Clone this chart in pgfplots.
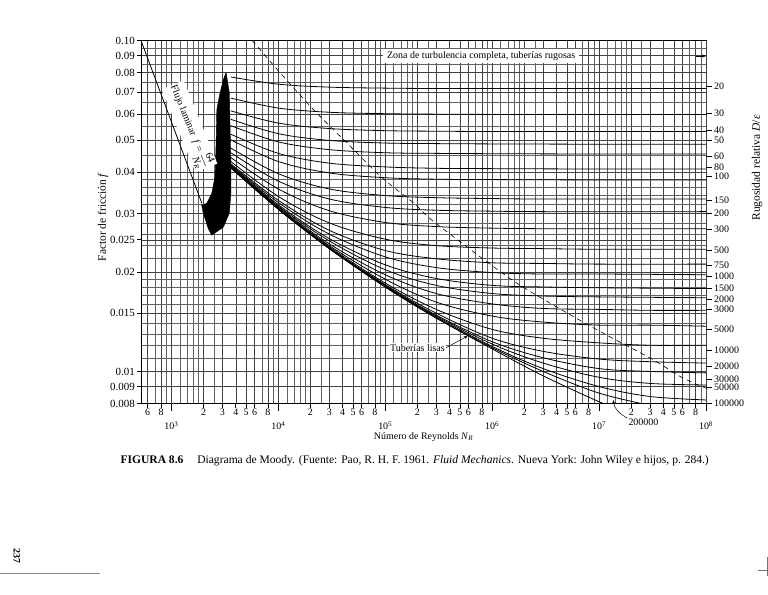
\documentclass[border=0pt]{standalone}
\usepackage{fontspec}
\setmainfont{Liberation Serif}
\usepackage{pgfplots}
\pgfplotsset{compat=1.18}
\usetikzlibrary{arrows.meta}

\pgfplotsset{moodycurve/.style={black, line width=0.8pt, smooth, tension=0.55}}

\begin{document}
\begin{tikzpicture}
\begin{axis}[
  at={(0,0)}, anchor=south west,
  scale only axis, width=565bp, height=363bp,
  xmode=log, ymode=log,
  xmin=520, xmax=1e8, ymin=0.008, ymax=0.1,
  clip mode=individual,
  axis line style={black, line width=0.7pt},
  tick align=outside, tick pos=left,
  major tick length=4bp, minor tick length=0pt,
  xtick={600,800,2000,3000,4000,5000,6000,8000,
         20000,30000,40000,50000,60000,80000,
         2e5,3e5,4e5,5e5,6e5,8e5,
         2e6,3e6,4e6,5e6,6e6,8e6,
         2e7,3e7,4e7,5e7,6e7,8e7},
  xticklabels={6,8,2,3,4,5,6,8,2,3,4,5,6,8,2,3,4,5,6,8,
               2,3,4,5,6,8,2,3,4,5,6,8},
  extra x ticks={1e3,1e4,1e5,1e6,1e7,1e8},
  extra x tick labels={10\textsuperscript{3},10\textsuperscript{4},
    10\textsuperscript{5},10\textsuperscript{6},10\textsuperscript{7},
    10\textsuperscript{8}},
  extra x tick style={major tick length=7bp,
    xticklabel style={yshift=-10bp}},
  minor xtick={700,900,
    1200,1400,1600,1800,2500,7000,9000,
    12000,14000,16000,18000,25000,70000,90000,
    1.2e5,1.4e5,1.6e5,1.8e5,2.5e5,7e5,9e5,
    1.2e6,1.4e6,1.6e6,1.8e6,2.5e6,7e6,9e6,
    1.2e7,1.4e7,1.6e7,1.8e7,2.5e7,7e7,9e7},
  ytick={0.008,0.009,0.01,0.015,0.02,0.025,0.03,0.04,0.05,0.06,0.07,0.08,0.09,0.1},
  yticklabels={0.008,0.009,0.01,0.015,0.02,0.025,0.03,0.04,0.05,0.06,0.07,0.08,0.09,0.10},
  minor ytick={0.011,0.012,0.013,0.014,0.016,0.017,0.018,0.019,
    0.022,0.024,0.026,0.028,0.032,0.034,0.036,0.038,
    0.045,0.055,0.065,0.075,0.085,0.095},
  grid=both,
  major grid style={black!75, line width=0.45pt},
  minor grid style={black!62, line width=0.4pt},
  tick style={black, line width=0.5pt},
  xticklabel style={inner sep=1pt},
  yticklabel style={inner sep=2pt, font=\fontsize{11}{13}\selectfont},
]

% laminar flow
\addplot[black, line width=0.8pt] coordinates {(520,0.1) (1930,0.0322)};

% critical zone
\addplot[fill=black, draw=black, line width=0.4pt] coordinates {
  (3250,0.0801) (3490,0.0694) (3540,0.0550) (3600,0.0436) (3600,0.0346)
  (3490,0.0301) (3065,0.0273) (2385,0.0258) (2215,0.0270) (1990,0.0300)
  (1920,0.0318) (2140,0.0322) (2385,0.0345) (2560,0.0388) (2620,0.0490)
  (2660,0.0618) (2850,0.0694) (3065,0.0762) (3250,0.0801)};

% relative roughness D/eps curves
\addplot[moodycurve] coordinates {(3600,0.0776) (1e4,0.0738) (3e4,0.0723) (1e5,0.0718) (3e5,0.0716) (1e6,0.0716) (1e7,0.0716) (1e8,0.0716)}; % 20
\addplot[moodycurve] coordinates {(3600,0.0670) (1e4,0.0625) (3e4,0.0607) (1e5,0.0601) (3e5,0.0599) (1e6,0.0598) (1e7,0.0598) (1e8,0.0598)}; % 30
\addplot[moodycurve] coordinates {(3600,0.0613) (1e4,0.0563) (3e4,0.0542) (1e5,0.0534) (3e5,0.0532) (1e6,0.0531) (1e7,0.0531) (1e8,0.0531)}; % 40
\addplot[moodycurve] coordinates {(3600,0.0578) (1e4,0.0523) (3e4,0.0499) (1e5,0.0490) (3e5,0.0488) (1e6,0.0487) (1e7,0.0486) (1e8,0.0486)}; % 50
\addplot[moodycurve] coordinates {(3600,0.0553) (1e4,0.0494) (3e4,0.0468) (1e5,0.0458) (3e5,0.0456) (1e6,0.0455) (1e7,0.0454) (1e8,0.0454)}; % 60
\addplot[moodycurve] coordinates {(3600,0.0521) (1e4,0.0456) (3e4,0.0426) (1e5,0.0415) (3e5,0.0411) (1e6,0.0410) (1e7,0.0409) (1e8,0.0409)}; % 80
\addplot[moodycurve] coordinates {(3600,0.0501) (1e4,0.0431) (3e4,0.0398) (1e5,0.0385) (3e5,0.0381) (1e6,0.0380) (1e7,0.0379) (1e8,0.0379)}; % 100
\addplot[moodycurve] coordinates {(3600,0.0473) (1e4,0.0396) (3e4,0.0356) (1e5,0.0340) (3e5,0.0335) (1e6,0.0333) (3e6,0.0332) (1e8,0.0332)}; % 150
\addplot[moodycurve] coordinates {(3600,0.0458) (1e4,0.0376) (3e4,0.0332) (1e5,0.0313) (3e5,0.0307) (1e6,0.0305) (3e6,0.0304) (1e8,0.0304)}; % 200
\addplot[moodycurve] coordinates {(3600,0.0443) (1e4,0.0356) (3e4,0.0306) (1e5,0.0282) (3e5,0.0274) (1e6,0.0271) (3e6,0.0270) (1e7,0.0270) (1e8,0.0270)}; % 300
\addplot[moodycurve] coordinates {(3600,0.0431) (1e4,0.0338) (3e4,0.0281) (1e5,0.0251) (3e5,0.0240) (1e6,0.0236) (3e6,0.0235) (1e7,0.0234) (1e8,0.0234)}; % 500
\addplot[moodycurve] coordinates {(3600,0.0424) (1e4,0.0329) (3e4,0.0267) (1e5,0.0232) (3e5,0.0219) (1e6,0.0213) (3e6,0.0212) (1e7,0.0211) (1e8,0.0211)}; % 750
\addplot[moodycurve] coordinates {(3600,0.0421) (1e4,0.0324) (3e4,0.0260) (1e5,0.0222) (3e5,0.0206) (1e6,0.0199) (3e6,0.0197) (1e7,0.0197) (1e8,0.0196)}; % 1000
\addplot[moodycurve] coordinates {(3600,0.0419) (1e4,0.0319) (3e4,0.0252) (1e5,0.0210) (3e5,0.0191) (1e6,0.0182) (3e6,0.0180) (1e7,0.0179) (1e8,0.0178)}; % 1500
\addplot[moodycurve] coordinates {(3600,0.0417) (1e4,0.0316) (3e4,0.0248) (1e5,0.0203) (3e5,0.0182) (1e6,0.0172) (3e6,0.0169) (1e7,0.0168) (1e8,0.0167)}; % 2000
\addplot[moodycurve] coordinates {(3600,0.0415) (1e4,0.0314) (3e4,0.0243) (1e5,0.0196) (3e5,0.0172) (1e6,0.0160) (3e6,0.0155) (1e7,0.0154) (3e7,0.0153) (1e8,0.0153)}; % 3000
\addplot[moodycurve] coordinates {(3600,0.0414) (1e4,0.0312) (3e4,0.0240) (1e5,0.0190) (3e5,0.0162) (1e6,0.0147) (3e6,0.0141) (1e7,0.0138) (3e7,0.0138) (1e8,0.0137)}; % 5000
\addplot[moodycurve] coordinates {(3600,0.0413) (1e4,0.0310) (3e4,0.0238) (1e5,0.0185) (3e5,0.0154) (1e6,0.0134) (3e6,0.0126) (1e7,0.0122) (3e7,0.0120) (1e8,0.0120)}; % 10000
\addplot[moodycurve] coordinates {(3600,0.0412) (1e4,0.0310) (3e4,0.0236) (1e5,0.0183) (3e5,0.0150) (1e6,0.0126) (3e6,0.0115) (1e7,0.0109) (3e7,0.0107) (1e8,0.0106)}; % 20000
\addplot[moodycurve] coordinates {(1e4,0.0309) (3e4,0.0236) (1e5,0.0182) (3e5,0.0148) (1e6,0.0123) (3e6,0.0110) (1e7,0.0102) (3e7,0.0100) (1e8,0.0099)}; % 30000
\addplot[moodycurve] coordinates {(1e4,0.0309) (3e4,0.0235) (1e5,0.0181) (3e5,0.0147) (1e6,0.0121) (3e6,0.0106) (1e7,0.0096) (3e7,0.0092) (1e8,0.0091)}; % 50000
\addplot[moodycurve] coordinates {(3e4,0.0235) (1e5,0.0180) (3e5,0.0146) (1e6,0.0119) (3e6,0.0102) (1e7,0.0090) (3e7,0.0084) (1e8,0.0082)}; % 100000
\addplot[moodycurve] coordinates {(1e5,0.0180) (3e5,0.0145) (1e6,0.0118) (3e6,0.0100) (1e7,0.0086) (3e7,0.0079)}; % 200000
\addplot[moodycurve] coordinates {(3600,0.0412) (1e4,0.0309) (3e4,0.0235) (1e5,0.0180) (3e5,0.0145) (1e6,0.0117) (3e6,0.0097) (1e7,0.0081) (3e7,0.0070)}; % smooth pipes

% limit of the complete turbulence zone
\addplot[black, line width=0.6pt, dash pattern=on 5pt off 4pt, smooth] coordinates {
  (5700,0.1) (10440,0.0798) (21460,0.0617) (44160,0.0489) (90800,0.0388)
  (186400,0.0322) (287000,0.0283) (1.404e6,0.01928) (3.58e6,0.0160)
  (1.055e7,0.01313) (3.11e7,0.01091) (5.95e7,0.00959) (1e8,0.0089)};

% annotations
\node[fill=white, inner xsep=4pt, inner ysep=2.5pt] at (axis cs:7.9e5,0.0898)
  {Zona de turbulencia completa, tuberías rugosas};
\draw[-{Stealth[length=4pt,width=3pt]}, line width=0.4pt]
  (axis cs:8e7,0.0898) -- (axis cs:1e8,0.0898);
\node[fill=white, inner sep=1pt] (lisas) at (axis cs:2.0e5,0.01178) {Tuberías lisas};
\draw[-{Stealth[length=4pt,width=3pt]}, line width=0.5pt]
  (lisas.east) -- (axis cs:5.9e5,0.0128);
\node[fill=white, inner sep=1pt] (l200k) at (axis cs:2.6e7,0.0070) {200000};
\draw[-{Stealth[length=4pt,width=3pt]}, line width=0.5pt]
  (l200k.north west) to[out=150, in=-85] (axis cs:1.36e7,0.0082);
\node[rotate=-68, fill=white, inner sep=1pt] at (axis cs:1480,0.0550)
  {Flujo laminar\enspace \textit{f} = $\displaystyle\frac{\mbox{64}}{\mbox{\textit{N}\textsubscript{\textit{R}}}}$};

% axis titles
\node[rotate=90, font=\fontsize{11.5}{13}\selectfont] at (rel axis cs:-0.0673,0.514)
  {Factor de fricción \textit{f}};
\node[rotate=90, font=\fontsize{11.5}{13}\selectfont] at (rel axis cs:1.0903,0.6488)
  {Rugosidad relativa \textit{D}/\textit{ε}};
\node at (rel axis cs:0.5,-0.092) {Número de Reynolds \textit{N}\textsubscript{\textit{R}}};
\end{axis}

% relative roughness scale on the right
\begin{axis}[
  at={(0,0)}, anchor=south west,
  scale only axis, width=565bp, height=363bp,
  xmode=log, ymode=log,
  xmin=520, xmax=1e8, ymin=0.008, ymax=0.1,
  axis x line=none, axis y line*=right,
  y axis line style={draw=none},
  tick align=outside, major tick length=6bp,
  tick style={black, line width=0.5pt},
  ytick={0.0080,0.00895,0.00948,0.01035,0.0116,0.0134,0.0154,0.0165,0.0178,
         0.0194,0.0209,0.0232,0.0269,0.0300,0.0329,0.0388,0.0414,0.0446,
         0.0498,0.0537,0.0601,0.0727},
  yticklabels={100000,50000,30000,20000,10000,5000,3000,2000,1500,
               1000,750,500,300,200,150,100,80,60,50,40,30,20},
  minor ytick={},
  yticklabel style={inner sep=2pt},
]
\addplot[draw=none] coordinates {(1e4,0.02)};
\end{axis}

% caption and page furniture
\node[anchor=west] at (-24bp,-57.5bp) {\fontsize{11.6}{13}\selectfont
  \textbf{FIGURA 8.6}\hspace{1.2em}Diagrama de Moody. (Fuente: Pao, R. H. F. 1961.
  \textit{Fluid Mechanics}. Nueva York: John Wiley e hijos, p. 284.)};
\node[rotate=-90, font=\bfseries] at (-124bp,-152.5bp) {237};
\draw[black!45, line width=0.6pt] (-141bp,-169.5bp) -- (-41bp,-169.5bp);
\draw[black!55, line width=0.6pt] (626bp,-153bp) -- (626bp,-172bp);
\draw[black!55, line width=0.6pt] (617bp,-166.5bp) -- (626bp,-166.5bp);

\pgfresetboundingbox
\path[use as bounding box] (-141bp,-191.5bp) rectangle (627bp,403.5bp);
\end{tikzpicture}
\end{document}
